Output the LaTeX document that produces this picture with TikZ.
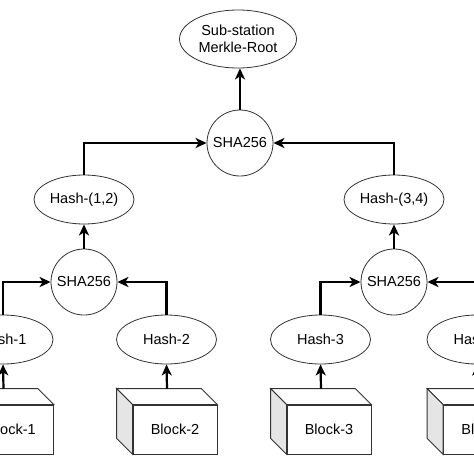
\documentclass[tikz,border=0pt]{standalone}
\usepackage{fontspec}
\setmainfont{Liberation Sans}
\usetikzlibrary{shapes.geometric,arrows.meta}

\begin{document}
\begin{tikzpicture}[x=1pt,y=-1pt,
    font=\fontsize{14.5}{17}\selectfont,
    hashnode/.style={ellipse, draw=black!80, line width=0.8pt, inner sep=0pt, minimum width=100pt, minimum height=49pt},
    shanode/.style={circle, draw=black!80, line width=0.8pt, inner sep=0pt, minimum size=66pt},
    blockface/.style={draw=black!80, line width=0.8pt, fill=white, inner sep=0pt, minimum width=84pt, minimum height=49pt},
    link/.style={-{Stealth[length=11pt,width=10pt,inset=3pt]}, line width=2.2pt}]
        \useasboundingbox (0,0) rectangle (474,474);
        \clip (0,0) rectangle (474,474);
        % Root of the tree
        \node[hashnode, minimum width=117pt, minimum height=58pt, align=center] (root) at (238,39) {Sub-station\\Merkle-Root};
        \node[shanode] (shatop) at (240,143) {SHA256};
        % Second level
        \node[hashnode] (h12) at (84,199.5) {Hash-(1,2)};
        \node[hashnode] (h34) at (394,199.5) {Hash-(3,4)};
        \node[shanode] (shaleft) at (84,282) {SHA256};
        \node[shanode] (sharight) at (394,282) {SHA256};
        % Leaf hashes
        \node[hashnode] (h1) at (3,339.5) {Hash-1};
        \node[hashnode] (h2) at (166.5,339.5) {Hash-2};
        \node[hashnode] (h3) at (320.5,339.5) {Hash-3};
        \node[hashnode] (h4) at (477,339.5) {Hash-4};
        % Blocks (front faces)
        \node[blockface] (b1) at (11.5,429.5) {Block-1};
        \node[blockface] (b2) at (175,429.5) {Block-2};
        \node[blockface] (b3) at (329,429.5) {Block-3};
        \node[blockface] (b4) at (485.5,429.5) {Block-4};
        % Top and side faces of the blocks
        \foreach \b in {b1,b2,b3,b4} {
          \draw[draw=black!80, line width=0.8pt, fill=white] (\b.north west) -- ++(-16,-16) -- ([shift={(-16,-16)}]\b.north east) -- (\b.north east) -- cycle;
          \draw[draw=black!80, line width=0.8pt, fill=black!10] (\b.north west) -- ++(-16,-16) -- ([shift={(-16,-16)}]\b.south west) -- (\b.south west) -- cycle;
          \coordinate (\b top) at ([shift={(-8,-16)}]\b.north);
        }
        % Blocks into leaf hashes
        \draw[link] (b1top) -- (h1.south);
        \draw[link] (b2top) -- (h2.south);
        \draw[link] (b3top) -- (h3.south);
        \draw[link] (b4top) -- (h4.south);
        % Leaf hashes into SHA256
        \draw[link] (h1.north) |- (shaleft.west);
        \draw[link] (h2.north) |- (shaleft.east);
        \draw[link] (h3.north) |- (sharight.west);
        \draw[link] (h4.north) |- (sharight.east);
        \draw[link] (shaleft.north) -- (h12.south);
        \draw[link] (sharight.north) -- (h34.south);
        % Up to the root
        \draw[link] (h12.north) |- (shatop.west);
        \draw[link] (h34.north) |- (shatop.east);
        \draw[link] (shatop.north) -- (shatop.north |- root.south);
\end{tikzpicture}
\end{document}
